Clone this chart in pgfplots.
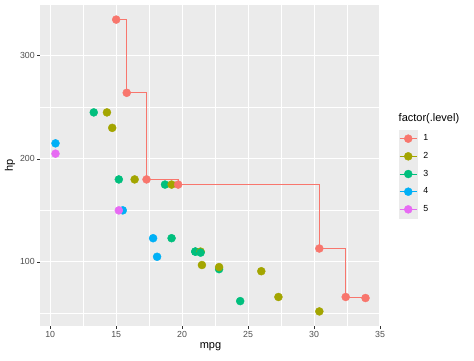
\documentclass[border=0pt]{standalone}
\usepackage{pgfplots}
\pgfplotsset{compat=1.18}
\usepackage{fontspec}
\setmainfont{Liberation Sans}
\definecolor{c1}{HTML}{F8766D}
\definecolor{c2}{HTML}{A3A500}
\definecolor{c3}{HTML}{00BF7D}
\definecolor{c4}{HTML}{00B0F6}
\definecolor{c5}{HTML}{E76BF3}
\definecolor{panel}{HTML}{EBEBEB}
\definecolor{keybg}{HTML}{EBEBEB}
\definecolor{tickc}{HTML}{4D4D4D}
\definecolor{tickl}{HTML}{333333}

\pgfplotstableread{
mpg hp level
21.0 110 3
21.0 110 3
22.8 93 3
21.4 110 2
18.7 175 3
18.1 105 4
14.3 245 2
24.4 62 3
22.8 95 2
19.2 123 3
17.8 123 4
16.4 180 2
17.3 180 1
15.2 180 3
10.4 205 5
10.4 215 4
14.7 230 2
32.4 66 1
30.4 52 2
33.9 65 1
21.5 97 2
15.5 150 4
15.2 150 5
13.3 245 3
19.2 175 2
27.3 66 2
26.0 91 2
30.4 113 1
15.8 264 1
19.7 175 1
15.0 335 1
21.4 109 3
}\cars

\pgfplotstableread{
mpg hp
15.0 335
15.8 264
17.3 180
19.7 175
30.4 113
32.4 66
33.9 65
}\front

\newcommand{\keyimg}[1]{%
  \fill[keybg] (0pt,-8.64pt) rectangle (17.28pt,8.64pt);
  \draw[#1, line width=0.8pt] (0pt,0pt) -- (17.28pt,0pt);
  \fill[#1] (8.64pt,0pt) circle (4pt);}

\begin{document}
\begin{tikzpicture}[x=1pt,y=1pt]
\path[use as bounding box] (0,0) rectangle (474,-360);
\begin{axis}[
  at={(40pt,-326pt)}, anchor=south west,
  scale only axis, width=341pt, height=321pt,
  xmin=9.225, xmax=35.075, ymin=37.85, ymax=349.15,
  axis background/.style={fill=panel},
  axis line style={draw=none},
  xtick={10,15,20,25,30,35}, ytick={100,200,300},
  minor xtick={12.5,17.5,22.5,27.5,32.5}, minor ytick={50,150,250},
  grid=both,
  major grid style={white, line width=1.1pt},
  minor grid style={white, line width=0.55pt},
  tick style={tickl, line width=0.5pt},
  major tick length=2.75pt, minor tick length=0pt,
  tick align=outside, tick pos=left,
  ticklabel style={font=\fontsize{8.8}{10}\selectfont, text=tickc},
  xticklabel style={yshift=1pt},
  yticklabel style={xshift=1pt},
  /pgf/number format/assume math mode=true,
  xlabel={mpg}, ylabel={hp},
  label style={font=\fontsize{11}{13}\selectfont},
  xlabel style={yshift=2pt},
  ylabel style={yshift=-2pt},
  legend style={draw=none, fill=none, inner sep=0pt, row sep=0pt, column sep=6pt,
    at={(axis description cs:1.0528,0.4735)}, anchor=west,
    nodes={inner sep=0pt, font=\fontsize{8.8}{10}\selectfont, text=black}},
  legend cell align=left,
]
\addplot[c1, line width=0.8pt, const plot, forget plot] table[x=mpg, y=hp] {\front};
\addplot[scatter, only marks, forget plot,
  scatter src=explicit symbolic,
  scatter/classes={
    1={mark=*, c1, mark size=4pt, draw=none, fill=c1},
    2={mark=*, c2, mark size=4pt, draw=none, fill=c2},
    3={mark=*, c3, mark size=4pt, draw=none, fill=c3},
    4={mark=*, c4, mark size=4pt, draw=none, fill=c4},
    5={mark=*, c5, mark size=4pt, draw=none, fill=c5}}]
  table[x=mpg, y=hp, meta=level] {\cars};
\addlegendimage{legend image code/.code={\keyimg{c1}}}
\addlegendentry{1}
\addlegendimage{legend image code/.code={\keyimg{c2}}}
\addlegendentry{2}
\addlegendimage{legend image code/.code={\keyimg{c3}}}
\addlegendentry{3}
\addlegendimage{legend image code/.code={\keyimg{c4}}}
\addlegendentry{4}
\addlegendimage{legend image code/.code={\keyimg{c5}}}
\addlegendentry{5}
\end{axis}
\node[anchor=west, font=\fontsize{11}{13}\selectfont, inner sep=0pt] at (398.5pt,-119pt) {factor(.level)};
\end{tikzpicture}
\end{document}
